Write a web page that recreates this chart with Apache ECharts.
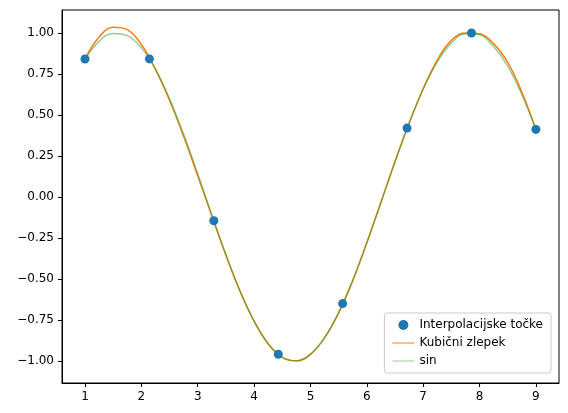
<!DOCTYPE html>
<html>
<head>
<meta charset="utf-8">
<script src="https://cdn.jsdelivr.net/npm/echarts@6/dist/echarts.min.js"></script>
<style>html,body{margin:0;padding:0;background:#fff}#c{width:568px;height:413px}</style>
</head>
<body>
<div id="c"></div>
<script>
// interpolation nodes
var nodeX = [1, 2.143, 3.286, 4.429, 5.571, 6.714, 7.857, 9];
var nodeY = [0.841, 0.842, -0.145, -0.959, -0.650, 0.420, 1.000, 0.412];

var curveX = [1,1.25,1.5,1.75,2,2.25,2.5,2.75,3,3.25,3.5,3.75,4,4.25,4.5,4.75,5,5.25,5.5,5.75,6,6.25,6.5,6.75,7,7.25,7.5,7.75,8,8.25,8.5,8.75,9];
var splineY = [0.841,0.975,1.035,1.02,0.93,0.78,0.59,0.37,0.13,-0.115,-0.355,-0.574,-0.757,-0.895,-0.978,-0.999,-0.959,-0.859,-0.706,-0.510,-0.279,-0.033,0.215,0.450,0.66,0.835,0.955,1.0,0.995,0.935,0.82,0.64,0.412];
var sinY = [0.841,0.949,0.997,0.984,0.909,0.778,0.598,0.382,0.141,-0.108,-0.351,-0.572,-0.757,-0.895,-0.978,-0.999,-0.959,-0.859,-0.706,-0.510,-0.279,-0.033,0.215,0.450,0.657,0.823,0.938,0.995,0.989,0.917,0.798,0.624,0.412];

var xTicks = [1,2,3,4,5,6,7,8,9];
var yTicks = [-1,-0.75,-0.5,-0.25,0,0.25,0.5,0.75,1];

function pairs(xs, ys){
    var out = [];
    for(var i in xs){ out.push([xs[i], ys[i]]); }
    return out;
}

var myChart = echarts.init(document.getElementById('c'));
var axisTxt = {color:'#000', fontSize:12, fontFamily:'DejaVu Sans'};

var option = {
    animation: false,
    grid: {left:62, right:9, top:10, bottom:30, show:true, borderColor:'#000', borderWidth:1, backgroundColor:'transparent'},
    xAxis: {
        type:'value', min:0.592, max:9.41,
        axisLine:{onZero:false, lineStyle:{color:'#000'}},
        axisTick:{show:true, customValues:xTicks, length:4, lineStyle:{color:'#000'}},
        axisLabel:Object.assign({customValues:xTicks, formatter:function(v){return String(Math.round(v));}}, axisTxt),
        splitLine:{show:false}
    },
    yAxis: {
        type:'value', min:-1.134, max:1.14,
        axisLine:{show:true, onZero:false, lineStyle:{color:'#000'}},
        axisTick:{show:true, customValues:yTicks, length:4, lineStyle:{color:'#000'}},
        axisLabel:Object.assign({customValues:yTicks, formatter:function(v){return v.toFixed(2).replace('-','\u2212');}}, axisTxt),
        splitLine:{show:false}
    },
    legend: {
        orient:'vertical', right:17, bottom:40,
        backgroundColor:'#fff', borderColor:'#ccc', borderWidth:1, borderRadius:3,
        padding:[6,8], itemGap:6, itemWidth:22, itemHeight:10,
        textStyle:{fontSize:12, fontFamily:'DejaVu Sans', color:'#000'},
        data:[
            {name:'Interpolacijske točke', icon:'circle'},
            {name:'Kubični zlepek', icon:'path://M0,4.5L22,4.5L22,5.5L0,5.5Z'},
            {name:'sin', icon:'path://M0,4.5L22,4.5L22,5.5L0,5.5Z'}
        ]
    },
    series: [
        {name:'Kubični zlepek', type:'line', smooth:0.4, symbol:'none', data:pairs(curveX, splineY),
         lineStyle:{color:'#ff7f0e', width:1.5}, itemStyle:{color:'#ff7f0e'}},
        {name:'sin', type:'line', smooth:0.4, symbol:'none', data:pairs(curveX, sinY),
         lineStyle:{color:'#2ca02c', width:1.5, opacity:0.5}, itemStyle:{color:'rgba(44,160,44,0.5)'}},
        {name:'Interpolacijske točke', type:'scatter', symbolSize:9, data:pairs(nodeX, nodeY),
         itemStyle:{color:'#1f77b4', opacity:1}, z:5}
    ]
};
myChart.setOption(option);
</script>
</body>
</html>
